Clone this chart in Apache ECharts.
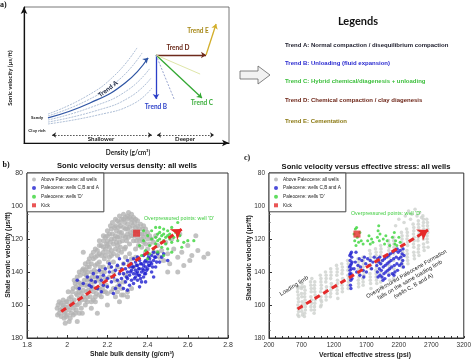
<!DOCTYPE html>
<html><head><meta charset="utf-8">
<script src="https://cdn.jsdelivr.net/npm/echarts@6/dist/echarts.min.js"></script>
<style>html,body{margin:0;padding:0;background:#fff}#c{width:474px;height:360px}</style>
</head><body><div id="c"></div>
<script>
// ---------- Panel a: schematic (density units 0-100, velocity units 0-100) ----------
const trendACurves = [
  [[11.7,21.3],[29.8,33.8],[44.4,50.0],[55.1,69.9]],
  [[11.7,19.9],[31.2,31.6],[46.8,47.1],[57.6,66.2]],
  [[11.7,18.4],[32.2,29.4],[49.3,44.1],[60.5,62.5]],
  [[11.7,16.9],[33.2,26.5],[50.7,39.0],[61.5,55.1]],
  [[11.7,15.4],[34.6,23.5],[51.7,33.8],[62.0,47.8]],
  [[11.7,14.0],[36.1,20.6],[53.2,28.7],[62.4,40.4]]
];
const trendOrigin = [64.4, 64.7];
const trendBEnd = [64.4, 32.4];
const trendCEnd = [86.8, 33.1];
const trendDEnd = [88.8, 64.7];
const trendEEnd = [93.7, 87.5];
const paleGuideEnd = [85.9, 50.7];
const dottedGuideEnd = [73.2, 32.4];
const shallowerSpan = [[13.7, 5.9], [62.4, 5.9]];
const deeperSpan = [[64.9, 5.9], [92.7, 5.9]];
const legendLines = [
  'Trend A: Normal compaction / disequilibrium compaction',
  'Trend B: Unloading (fluid expansion)',
  'Trend C: Hybrid chemical/diagenesis + unloading',
  'Trend D: Chemical compaction / clay diagenesis',
  'Trend E: Cementation'
];

// ---------- Panel b: sonic velocity vs density ----------
const densityTicks = [1.8, 2, 2.2, 2.4, 2.6, 2.8];
const velocityTicks = [80, 100, 120, 140, 160, 180];
const seriesNames = ['Above Paleocene: all wells', 'Paleocene: wells C,B and A', "Paleocene: wells 'D'", 'Kick'];
const grayDensity = [
 [1.95,162],[1.96,165],[1.955,160],[1.97,167],[1.965,163],
 [1.98,160],[1.99,164],[1.985,168],[1.98,157],[1.99,161],
 [2.0,158],[2.01,163],[2.0,166],[2.01,170],[2.02,155],[2.02,160],[2.005,152],[2.015,168],
 [2.03,150],[2.035,157],[2.03,162],[2.04,165],[2.04,147],[2.045,153],[2.035,145],
 [2.05,143],[2.055,150],[2.06,156],[2.05,160],[2.06,140],[2.065,147],[2.07,153],[2.07,162],
 [2.08,138],[2.085,145],[2.08,151],[2.09,157],[2.09,135],[2.095,142],[2.1,148],[2.1,155],[2.1,137],[2.09,160],
 [2.11,132],[2.12,140],[2.12,146],[2.13,152],[2.13,128],[2.14,136],[2.14,143],[2.15,150],[2.15,130],[2.13,157],
 [2.16,124],[2.16,134],[2.17,140],[2.17,147],[2.18,121],[2.18,128],[2.18,137],[2.19,152],[2.19,126],[2.17,155],
 [2.2,118],[2.2,124],[2.21,131],[2.21,137],[2.22,114],[2.22,120],[2.22,127],[2.23,134],[2.2,153],[2.23,150],[2.21,143],
 [2.24,112],[2.24,118],[2.25,124],[2.25,130],[2.26,110],[2.26,116],[2.26,122],[2.27,128],[2.25,152],[2.27,154],[2.26,147],
 [2.28,108],[2.28,113],[2.29,119],[2.29,125],[2.3,106],[2.3,111],[2.3,117],[2.31,123],[2.29,131],[2.3,152],[2.3,155],[2.31,129],
 [2.32,105],[2.32,110],[2.33,115],[2.33,121],[2.34,108],[2.34,113],[2.34,126],[2.35,119],[2.32,132],[2.35,112],
 [2.36,114],[2.36,121],[2.37,117],[2.37,125],[2.38,112],[2.38,119],[2.39,123],[2.39,128],[2.4,116],[2.4,126],
 [2.42,120],[2.43,128],[2.44,118],[2.45,124],[2.46,131],[2.47,127],[2.48,133],[2.49,122],[2.5,129],[2.51,135],
 [2.53,126],[2.55,131],[2.57,128],[2.58,136],[2.6,124],[2.62,130],[2.65,127],[2.68,131],[2.7,129],[2.52,120],
 [2.56,117],[2.61,133],[2.64,118],[2.55,140],[2.5,140],
 [2.08,128],[2.12,162],[2.2,160],[2.26,158],[2.33,137],[2.15,165],[2.05,170],[1.99,171],
 [2.23,140],[2.25,137],[2.28,135],[2.24,145],[2.19,144],[2.16,150],[2.14,155],[2.12,150],[2.1,145],[2.06,165],
 [1.952,166],[1.96,158],[1.975,162],[1.97,159],[1.985,165],[1.995,158],[1.995,167],[2.005,161],[2.01,156],[2.02,165],
 [2.025,158],[2.025,152],[2.03,166],[2.04,160],[2.045,149],[2.045,163],[2.05,154],[2.055,146],[2.06,159],[2.06,152],
 [2.065,142],[2.07,157],[2.07,148],[2.075,139],[2.075,165],[2.08,155],[2.085,141],[2.09,148],[2.09,139],[2.095,152],
 [2.1,140],[2.1,158],[2.105,134],[2.105,151],[2.11,137],[2.11,144],[2.115,155],[2.12,130],[2.12,135],[2.125,143],
 [2.125,149],[2.13,132],[2.135,139],[2.135,146],[2.14,126],[2.14,131],[2.145,140],[2.145,153],[2.15,127],[2.15,135],
 [2.155,145],[2.16,121],[2.16,129],[2.165,137],[2.165,143],[2.17,124],[2.17,130],[2.175,150],[2.18,118],[2.18,125],
 [2.185,132],[2.185,140],[2.19,119],[2.19,130],[2.195,123],[2.195,148],[2.2,115],[2.2,121],[2.205,128],[2.205,134],
 [2.21,117],[2.21,125],[2.215,112],[2.215,122],[2.22,130],[2.225,110],[2.225,117],[2.23,123],[2.23,129],[2.235,113],
 [2.235,120],[2.24,108],[2.24,126],[2.245,115],[2.245,122],[2.25,109],[2.25,119],[2.255,113],[2.255,127],[2.26,106],
 [2.26,119],[2.265,112],[2.265,125],[2.27,108],[2.27,116],[2.275,121],[2.28,105],[2.28,118],[2.285,110],[2.285,126],
 [2.29,107],[2.29,114],[2.295,121],[2.3,108],[2.3,114],[2.305,104],[2.305,119],[2.31,107],[2.31,113],[2.315,116],
 [2.32,108],[2.32,118],[2.325,112],[2.33,107],[2.33,118],[2.335,110],[2.34,116],[2.345,121],[2.35,109],[2.35,115],
 [2.355,124],[2.36,117],[2.365,111],[2.37,120],[2.375,114],[2.38,122],[2.385,117],[2.39,114],[2.4,120],[2.41,118],
 [2.41,123],[2.43,122],[2.45,128],[2.25,149],[2.27,150],[2.28,154],[2.22,152],[2.24,155],[2.18,152],[2.16,154],
 [2.14,158],[2.12,158],[2.28,146],[2.29,142],[2.31,135],[2.32,150],[2.34,131]
];
const blueDensity = [
 [2.05,145],[2.06,150],[2.08,147],[2.1,143],[2.11,148],[2.12,145],[2.13,141],[2.14,146],[2.15,150],[2.15,143],
 [2.16,139],[2.17,145],[2.18,148],[2.18,142],[2.19,138],[2.2,144],[2.2,149],[2.21,140],[2.22,146],[2.22,137],
 [2.23,143],[2.24,150],[2.24,139],[2.25,145],[2.25,136],[2.26,141],[2.26,148],[2.27,138],[2.27,144],[2.28,135],
 [2.28,141],[2.28,150],[2.29,146],[2.29,138],[2.3,133],[2.3,140],[2.3,144],[2.31,137],[2.31,148],[2.31,142],
 [2.32,135],[2.32,139],[2.32,145],[2.33,132],[2.33,137],[2.33,141],[2.33,147],[2.34,134],[2.34,139],[2.34,143],
 [2.35,136],[2.35,140],[2.35,145],[2.35,131],[2.36,133],[2.36,138],[2.36,142],[2.37,135],[2.37,140],[2.37,146],
 [2.38,130],[2.38,136],[2.38,139],[2.38,143],[2.39,133],[2.39,137],[2.39,141],[2.4,129],[2.4,134],[2.4,138],
 [2.41,132],[2.41,136],[2.42,130],[2.42,135],[2.42,140],[2.43,128],[2.43,133],[2.44,131],[2.44,137],[2.45,129],
 [2.46,134],[2.47,131],[2.48,129],[2.5,133],[2.23,153],[2.3,151],[2.36,149],[2.26,132],[2.21,135],[2.43,143],
 [2.39,146],[2.12,149],[2.17,152],
 [2.325,137],[2.345,136],[2.355,138],[2.365,135],[2.375,138],[2.385,134],[2.395,139],[2.405,136],[2.345,141],[2.365,144],
 [2.385,141],[2.405,131],[2.415,134],[2.425,137],[2.435,131],[2.445,134],[2.355,142],[2.335,144],[2.315,140],[2.295,143]
];
const greenDensity = [
 [2.36,124],[2.37,130],[2.38,121],[2.39,127],[2.4,118],[2.4,132],[2.41,124],[2.42,115],[2.42,120],[2.43,126],
 [2.44,113],[2.44,119],[2.44,123],[2.45,117],[2.45,121],[2.45,128],[2.46,113],[2.46,116],[2.46,120],[2.47,118],
 [2.47,122],[2.47,125],[2.48,114],[2.48,117],[2.48,121],[2.49,119],[2.49,123],[2.5,115],[2.5,118],[2.5,126],
 [2.51,120],[2.51,117],[2.52,122],[2.52,113],[2.53,119],[2.54,116],[2.55,121],[2.56,118],[2.58,122],[2.6,121],
 [2.63,121],[2.55,110],[2.52,128],[2.48,130],[2.38,115],[2.41,129],[2.57,125]
];
const kickDensity = [[2.345, 116.5]];
const loadingTrendDensity = [[1.97, 164], [2.57, 114]];

// ---------- Panel c: sonic velocity vs vertical effective stress ----------
const stressTicks = [200, 700, 1200, 1700, 2200, 2700, 3200];
const grayStress = [
 [640,152],[650,156],[645,160],[655,164],[650,149],[660,167],
 [700,150],[705,155],[710,158],[700,162],[715,166],[710,147],
 [750,153],[755,157],[760,161],[750,165],[745,149],
 [840,146],[850,150],[845,155],[855,159],[850,163],[860,144],
 [900,148],[905,152],[910,157],[900,161],[895,165],
 [990,142],[1000,146],[1005,150],[1000,155],[1010,158],[995,161],
 [1070,140],[1080,144],[1085,149],[1075,153],[1080,157],
 [1150,138],[1155,142],[1160,147],[1150,151],[1145,155],
 [1240,136],[1250,140],[1255,145],[1245,149],[1250,153],[1260,156],
 [1320,135],[1330,139],[1335,144],[1325,148],[1330,152],
 [1410,133],[1420,137],[1415,142],[1425,146],[1420,150],
 [1570,132],[1580,136],[1585,141],[1575,145],[1580,149],
 [1650,131],[1655,135],[1660,140],[1645,144],[1650,148],
 [1750,127],[1760,131],[1765,136],[1755,141],[1760,145],[1770,150],
 [1840,126],[1850,130],[1855,134],[1845,139],[1850,143],[1860,147],
 [1920,124],[1925,128],[1915,133],[1920,146],[1930,149],
 [2040,121],[2050,125],[2055,129],[2045,134],[2050,138],[2060,145],
 [2120,119],[2125,123],[2130,127],[2115,141],[2120,144],
 [2240,116],[2250,120],[2255,124],[2260,128],[2245,133],[2250,137],
 [2320,114],[2330,118],[2335,122],[2325,127],[2330,131],[2340,135],
 [2420,111],[2430,115],[2435,119],[2425,123],[2430,128],[2440,132],
 [2500,109],[2505,113],[2510,117],[2495,121],[2500,126],[2510,130],
 [2570,106],[2580,110],[2585,114],[2575,118],[2580,123],[2590,127],
 [2630,108],[2640,112],[2645,116],[2635,120],[2650,125],
 [2300,106],[2350,103],[2400,105],[2450,102],[2520,104],[2200,108],[2280,110],[2150,112],
 [645,150],[650,154],[655,158],[650,162],[645,166],[705,149],[700,153],[710,160],[705,164],[755,151],
 [750,155],[755,159],[760,163],[745,167],[845,148],[850,152],[855,157],[845,161],[905,146],[900,150],
 [910,154],[905,159],[900,163],[1000,144],[1005,148],[995,152],[1000,157],[1005,160],[1080,142],[1075,146],
 [1085,151],[1080,155],[1155,140],[1150,144],[1160,149],[1150,153],[1250,138],[1245,142],[1255,147],[1250,151],
 [1330,137],[1325,141],[1335,146],[1330,150],[1420,135],[1415,139],[1425,144],[1420,148],[1580,134],[1575,138],
 [1585,143],[1580,147],[1655,133],[1650,137],[1660,142],[1650,146],[1760,129],[1755,133],[1765,138],[1760,143],
 [1765,147],[1850,128],[1845,132],[1855,137],[1850,141],[1855,145],[1925,126],[1920,130],[1925,135],[1920,140],
 [1925,143],[2050,123],[2045,127],[2055,131],[2050,136],[2050,141],[2120,121],[2125,125],[2120,129],[2120,133],
 [2125,138],[2250,118],[2245,122],[2255,126],[2250,130],[2255,135],[2330,116],[2325,120],[2335,124],[2330,129],
 [2335,133],[2430,113],[2425,117],[2435,121],[2430,125],[2435,130],[2500,111],[2505,115],[2500,119],[2505,124],
 [2500,128],[2580,108],[2575,112],[2585,116],[2580,120],[2585,125],[2640,110],[2645,114],[2635,118],[2640,122],
 [2550,107],[2480,106],[2380,108]
];
const blueStress = [
 [1445,130],[1450,133],[1455,136],[1448,139],[1452,142],[1460,145],[1455,148],[1462,150],[1470,128],[1475,131],
 [1468,135],[1472,138],[1465,141],[1478,144],[1440,137],[1445,141],[1458,129],[1480,134],
 [1510,138],[1530,134],[1550,140],[1570,136],[1590,132],[1610,137],[1630,133],[1650,139],[1670,131],[1690,135],
 [1700,140],[1720,132],[1740,136],[1760,133],[1780,138],[1800,134],[1820,131],[1600,142],[1540,128],[1660,143],
 [1860,136],[1870,140],[1880,143],[1890,134],[1900,138],[1910,142],[1920,135],[1930,139],[1940,143],[1950,133],
 [1960,137],[1970,141],[1980,132],[1990,136],[2000,140],[2010,131],[2020,135],[2030,139],[2040,130],[2050,134],
 [2060,138],[2070,129],[2080,133],[2090,137],[2100,141],[2110,128],[2120,132],[2130,136],[2140,140],[2150,127],
 [2160,131],[2170,135],[2180,139],[2190,128],[2200,132],[2210,136],[2220,127],[2230,131],[2240,135],[2250,129],
 [2260,133],[2270,137],[2280,130],[1955,145],[1985,144],[2045,142],[2125,142],[2175,126],[2265,126],[1875,132],[1905,131]
];
const greenStress = [
 [1510,117],[1520,121],[1530,114],[1540,124],[1560,119],[1580,122],[1600,116],[1620,121],[1650,123],[1720,121],
 [1740,118],[1760,123],[1780,120],[1800,122],[1870,119],[1880,115],[1890,112],[1900,121],[1910,117],[1960,120],
 [1980,123],[2000,118],[2020,121],[2060,124],[2100,119],[2130,116],[2150,121],[2170,124],[2200,119],[2220,122],
 [1550,113],[2140,123]
];
const kickStress = [[1555, 117]];
const loadingTrendStress = [[640, 162.4], [2650, 114.5]];

// ---------- build ----------
const C_GRAY_B = '#b3b3b3', C_GRAY_C = '#cdd1cd', C_BLUE = '#1f1fd0', C_GREEN = '#38d438', C_RED = '#e52a2a';
const SANS = 'Liberation Sans';
function range(a, b, s) { const r = []; for (let v = a; v <= b + 1e-9; v += s) r.push(+v.toFixed(4)); return r; }

function sciAxesX(grid, ticks, labelSize, customTicks) {
  const o = {
    type: 'value', gridIndex: grid, min: ticks[0], max: ticks[ticks.length - 1],
    interval: ticks[1] - ticks[0],
    axisLine: { show: true, lineStyle: { color: '#333', width: 1 } },
    axisTick: { show: true, inside: true, length: 3, lineStyle: { color: '#333' } },
    minorTick: { show: true, splitNumber: 4, length: 1.5, lineStyle: { color: '#555' } },
    axisLabel: { fontSize: labelSize, color: '#333', margin: 4, fontFamily: SANS,
      formatter: v => String(Math.round(v * 100) / 100) },
    splitLine: { show: false }
  };
  if (customTicks) {
    o.axisLabel.customValues = ticks;
    o.axisTick.customValues = customTicks;
    o.axisTick.length = 2;
    o.minorTick.show = false;
  }
  return o;
}
function velAxis(grid, labelSize) {
  return {
    type: 'value', gridIndex: grid, inverse: true, min: velocityTicks[0], max: velocityTicks[velocityTicks.length - 1],
    interval: velocityTicks[1] - velocityTicks[0],
    axisLine: { show: true, lineStyle: { color: '#333', width: 1 } },
    axisTick: { show: true, inside: true, length: 3, lineStyle: { color: '#333' } },
    minorTick: { show: true, splitNumber: 4, length: 1.5, lineStyle: { color: '#555' } },
    axisLabel: { fontSize: labelSize, color: '#333', margin: 4, fontFamily: SANS, formatter: v => String(v) },
    splitLine: { show: false }
  };
}
function arrowMark(from, to, color, width, type, arrow) {
  return [{ coord: from, lineStyle: { color: color, width: width, type: type }, symbol: 'none' },
          { coord: to, symbol: arrow ? 'arrow' : 'none' }];
}
function markSeries(x, y, data, symbolSize, z) {
  return {
    type: 'line', xAxisIndex: x, yAxisIndex: y, data: [], silent: true, z: z || 3,
    markLine: { silent: true, animation: false, symbol: ['none', 'arrow'], symbolSize: symbolSize || 6,
      label: { show: false }, emphasis: { disabled: true }, data: data }
  };
}

const series = [];
trendACurves.forEach((c, i) => {
  series.push({
    type: 'line', xAxisIndex: 0, yAxisIndex: 0, data: c, smooth: 0.5, showSymbol: false, silent: true,
    lineStyle: i === 2 ? { color: '#2f55a4', width: 1.3 } : { color: '#9aaecb', width: 0.8, type: [2, 1] }
  });
});
series.push(markSeries(0, 0, [
  arrowMark([59.2, 60.6], trendACurves[2][3], '#2f55a4', 1.3, 'solid', true),
  arrowMark(trendOrigin, trendBEnd, '#2b3fc8', 1.3, 'solid', true),
  arrowMark(trendOrigin, trendCEnd, '#33a833', 1.3, 'solid', true),
  arrowMark(trendOrigin, trendDEnd, '#6e2a1c', 1.3, 'solid', true),
  arrowMark(trendDEnd, trendEEnd, '#d2ae2a', 1.3, 'solid', true),
  arrowMark(trendOrigin, paleGuideEnd, '#dfe6a8', 1, 'solid', false),
  arrowMark(trendOrigin, dottedGuideEnd, '#9aa6d0', 1, [2, 1.5], false)
], 5));
series.push({
  type: 'line', xAxisIndex: 0, yAxisIndex: 0, data: [], silent: true,
  markLine: { silent: true, animation: false, symbol: ['arrow', 'arrow'], symbolSize: 4, label: { show: false },
    lineStyle: { color: '#222', width: 0.8, type: [1.5, 1.5] },
    data: [[{ coord: shallowerSpan[0] }, { coord: shallowerSpan[1] }], [{ coord: deeperSpan[0] }, { coord: deeperSpan[1] }]] }
});
series.push({ name: seriesNames[0], type: 'scatter', xAxisIndex: 1, yAxisIndex: 1, data: grayDensity, symbolSize: 5, itemStyle: { color: C_GRAY_B }, silent: true });
series.push({ name: seriesNames[1], type: 'scatter', xAxisIndex: 1, yAxisIndex: 1, data: blueDensity, symbolSize: 3.6, itemStyle: { color: C_BLUE }, silent: true });
series.push({ name: seriesNames[2], type: 'scatter', xAxisIndex: 1, yAxisIndex: 1, data: greenDensity, symbolSize: 3.2, itemStyle: { color: C_GREEN }, silent: true });
series.push({ name: seriesNames[3], type: 'scatter', xAxisIndex: 1, yAxisIndex: 1, data: kickDensity, symbol: 'rect', symbolSize: 7, itemStyle: { color: C_RED }, silent: true });
series.push(markSeries(1, 1, [arrowMark(loadingTrendDensity[0], loadingTrendDensity[1], C_RED, 3, [6, 4], true)], 10, 6));
series.push({ name: seriesNames[0], type: 'scatter', xAxisIndex: 2, yAxisIndex: 2, data: grayStress, symbolSize: 3.6, itemStyle: { color: C_GRAY_C }, silent: true });
series.push({ name: seriesNames[1], type: 'scatter', xAxisIndex: 2, yAxisIndex: 2, data: blueStress, symbolSize: 3.4, itemStyle: { color: C_BLUE }, silent: true });
series.push({ name: seriesNames[2], type: 'scatter', xAxisIndex: 2, yAxisIndex: 2, data: greenStress, symbolSize: 3, itemStyle: { color: C_GREEN }, silent: true });
series.push({ name: seriesNames[3], type: 'scatter', xAxisIndex: 2, yAxisIndex: 2, data: kickStress, symbol: 'rect', symbolSize: 7, itemStyle: { color: C_RED }, silent: true });
series.push(markSeries(2, 2, [arrowMark(loadingTrendStress[0], loadingTrendStress[1], C_RED, 3, [6, 4], true)], 10, 6));

function legendAt(left) {
  return {
    left: left, top: 173, orient: 'vertical', backgroundColor: '#fff', borderColor: '#444', borderWidth: 1,
    padding: [4, 5, 4, 5], itemGap: 3.6, itemWidth: 4, itemHeight: 4, selectedMode: false,
    textStyle: { fontSize: 4.7, color: '#222', fontFamily: SANS },
    data: [{ name: seriesNames[0], icon: 'circle' }, { name: seriesNames[1], icon: 'circle' },
           { name: seriesNames[2], icon: 'circle' }, { name: seriesNames[3], icon: 'rect' }]
  };
}

function txt(x, y, text, font, fill, align, rot, extra) {
  return { type: 'text', x: x, y: y, rotation: rot || 0, z: 100, silent: true,
    style: Object.assign({ text: text, font: font, fill: fill || '#222', textAlign: align || 'center', textVerticalAlign: 'middle' }, extra || {}) };
}
const deg = Math.PI / 180;
const legendColors = ['#1b1b2a', '#2a2ad0', '#3cbf3c', '#6e2618', '#8c7a14'];
const graphics = [
  txt(0, 5, 'a)', 'bold 8px "Liberation Serif"', '#111', 'left'),
  txt(10, 78, 'Sonic velocity (µs/ft)', 'bold 6px Lato', '#222', 'center', 90 * deg),
  txt(128, 153, 'Density (g/cm³)', 'bold 6.5px Lato', '#222'),
  txt(108, 89, 'Trend A', 'bold 6.5px Lato', '#1d2740', 'center', 37 * deg),
  txt(156, 107, 'Trend B', 'bold 6.5px Lato', '#2b3fc8'),
  txt(202, 103, 'Trend C', 'bold 6.5px Lato', '#3cae3c'),
  txt(178, 48, 'Trend D', 'bold 6.5px Lato', '#6b2a1a'),
  txt(198, 31, 'Trend E', 'bold 6.5px Lato', '#a88a1a'),
  txt(37, 118, 'Sandy', 'bold 4.5px Lato', '#222'),
  txt(37, 131, 'Clay rich', 'bold 4.5px Lato', '#222'),
  txt(101, 139, 'Shallower', 'bold 6px Lato', '#222'),
  txt(185, 139, 'Deeper', 'bold 6px Lato', '#222'),
  txt(358, 21, 'Legends', 'bold 11px Lato', '#111'),
  { type: 'polygon', silent: true, shape: { points: [[240, 71], [258, 71], [258, 66], [270, 75], [258, 84], [258, 79], [240, 79]] },
    style: { fill: '#f2f2f2', stroke: '#666', lineWidth: 0.8 } },
  txt(6, 165, 'b)', 'bold 8px "Liberation Serif"', '#111', 'center'),
  txt(127, 166, 'Sonic velocity versus density: all wells', 'bold 7.6px "Liberation Sans"', '#111'),
  txt(8, 255, 'Shale sonic velocity (µs/ft)', 'bold 6.8px "Liberation Sans"', '#222', 'center', 90 * deg),
  txt(132, 354, 'Shale bulk density (g/cm³)', 'bold 6.8px "Liberation Sans"', '#222'),
  txt(144, 219, "Overpressured points: well 'D'", '5.3px "Liberation Sans"', '#3ccc3c', 'left'),
  txt(247, 158, 'c)', 'bold 8px "Liberation Serif"', '#111', 'center'),
  txt(366, 167, 'Sonic velocity versus effective stress: all wells', 'bold 7.6px "Liberation Sans"', '#111'),
  txt(249, 258, 'Shale sonic velocity (µs/ft)', 'bold 6.8px "Liberation Sans"', '#222', 'center', 90 * deg),
  txt(365, 355, 'Vertical effective stress (psi)', 'bold 6.8px "Liberation Sans"', '#222'),
  txt(386, 214, "Overpressured points: well 'D'", '5.3px "Liberation Sans"', '#3ccc3c'),
  txt(294, 286, 'Loading limb', '5.8px "Liberation Sans"', '#222', 'center', 32 * deg),
  txt(410, 280, 'Overpressured Paleocene Formation\nfalls on the same loading limb\n(wells C, B and A)', '5.6px "Liberation Sans"', '#222', 'center', 30 * deg, { lineHeight: 7 })
];
legendLines.forEach((t, i) => {
  graphics.push(txt(285, [45, 63, 81, 100, 121][i], t, 'bold 6px "Liberation Sans"', legendColors[i], 'left'));
});

const option = {
  animation: false,
  backgroundColor: '#fff',
  grid: [
    { left: 24, top: 7, width: 205, height: 136, show: true, borderColor: '#555', borderWidth: 0.8 },
    { left: 27, top: 173, width: 201, height: 165, show: true, borderColor: '#333', borderWidth: 1 },
    { left: 269, top: 173, width: 197, height: 165, show: true, borderColor: '#333', borderWidth: 1 }
  ],
  xAxis: [
    { type: 'value', gridIndex: 0, min: 0, max: 100, axisLabel: { show: false }, axisTick: { show: false }, splitLine: { show: false },
      axisLine: { show: true, symbol: ['none', 'arrow'], symbolSize: [5, 7], lineStyle: { color: '#111', width: 1.2 } } },
    sciAxesX(1, densityTicks, 7),
    sciAxesX(2, stressTicks, 6.5, range(200, 3200, 100))
  ],
  yAxis: [
    { type: 'value', gridIndex: 0, min: 0, max: 100, axisLabel: { show: false }, axisTick: { show: false }, splitLine: { show: false },
      axisLine: { show: true, symbol: ['none', 'arrow'], symbolSize: [5, 7], lineStyle: { color: '#111', width: 1.2 } } },
    velAxis(1, 7),
    velAxis(2, 6.5)
  ],
  legend: [legendAt(27), legendAt(269)],
  series: series,
  graphic: graphics
};
const chart = echarts.init(document.getElementById('c'), null, { renderer: 'canvas' });
chart.setOption(option);
</script></body></html>
